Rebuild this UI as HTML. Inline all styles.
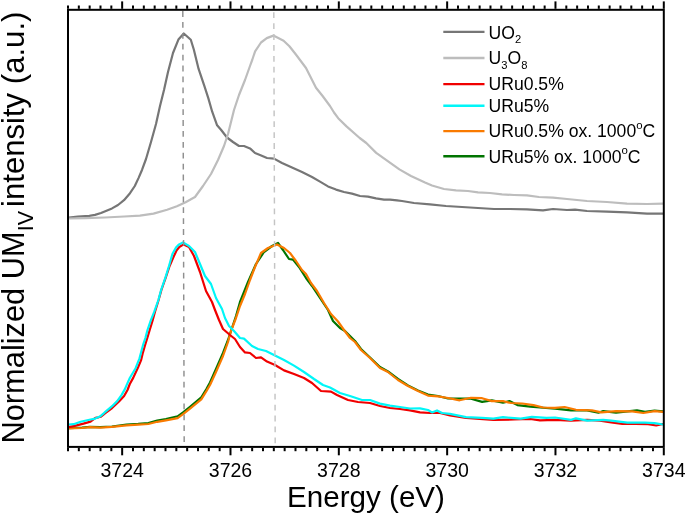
<!DOCTYPE html>
<html><head><meta charset="utf-8"><style>
html,body{margin:0;padding:0;background:#fff;}
svg{display:block;}
text{font-family:"Liberation Sans",Arial,sans-serif;fill:#000;}
</style></head><body>
<svg width="685" height="514" viewBox="0 0 685 514">
<rect width="685" height="514" fill="#fff"/>
<g fill="none" stroke-width="2.2" stroke-linejoin="round" stroke-linecap="round">
<polyline points="68.9,217.5 77.7,216.7 89.3,215.8 95.0,214.9 101.0,213.0 107.1,210.4 112.0,208.4 118.0,205.0 124.0,200.2 130.0,193.2 134.8,186.0 138.5,178.1 142.1,169.7 146.0,159.0 151.0,142.0 156.0,124.0 160.0,106.0 164.0,90.0 168.0,72.0 173.0,53.0 178.4,39.6 183.8,33.5 190.8,39.7 193.8,49.5 198.6,68.9 204.5,86.4 208.3,98.1 212.2,111.7 217.1,125.3 221.0,129.8 227.0,137.5 233.0,142.0 239.0,146.0 244.0,146.0 250.0,148.4 255.0,153.0 260.0,155.0 267.0,158.0 274.0,158.6 282.0,163.0 292.0,167.6 302.0,172.0 312.0,177.0 320.0,181.6 328.0,186.4 336.0,189.6 344.0,192.0 352.0,193.6 360.0,196.0 368.0,196.6 376.0,198.4 384.0,199.6 390.0,199.6 397.0,200.4 402.0,201.0 414.0,203.0 430.0,204.4 446.0,206.0 462.0,207.0 478.0,208.0 494.0,209.0 510.0,209.0 527.0,209.4 543.0,210.4 553.0,209.0 567.0,210.0 575.0,209.6 587.0,211.0 607.0,211.6 627.0,212.4 647.0,213.6 663.0,213.6" stroke="#767676"/>
<polyline points="68.9,218.5 85.4,218.1 104.9,217.5 124.3,216.5 139.9,215.6 153.5,213.6 167.1,209.7 176.9,206.2 185.6,202.3 195.0,197.0 203.0,186.0 211.0,174.0 218.0,160.0 224.0,146.0 228.0,134.0 231.0,122.0 234.0,110.0 239.0,95.0 245.0,80.0 250.0,66.0 252.2,60.0 255.1,51.3 261.0,42.5 266.8,38.1 273.4,35.6 283.6,40.7 289.4,46.2 296.1,54.8 306.0,68.0 316.0,87.8 322.6,96.0 330.0,106.0 334.0,112.5 338.2,118.2 346.5,126.4 359.7,138.0 366.3,143.0 376.2,152.9 387.8,161.2 399.4,169.4 411.0,176.0 425.0,182.6 432.0,185.5 444.0,189.0 456.0,190.4 468.0,191.0 478.0,192.4 490.0,193.0 502.0,194.4 514.0,195.0 527.0,195.4 539.0,197.0 553.0,197.6 567.0,199.0 587.0,201.0 607.0,202.0 627.0,203.6 647.0,204.0 663.0,203.6" stroke="#bdbdbd"/>
<polyline points="68.4,428.1 82.0,427.6 90.0,426.9 100.2,427.2 111.9,426.6 126.5,424.5 138.2,423.9 148.4,423.0 157.2,420.6 165.9,419.0 177.6,416.3 183.4,412.2 190.0,406.8 201.3,397.3 206.4,389.1 210.0,382.5 216.0,369.0 223.0,353.0 228.0,340.0 232.0,328.0 236.0,316.0 240.0,302.0 248.0,282.0 256.0,264.0 264.0,252.0 272.0,246.0 278.0,243.0 283.0,250.0 289.0,259.0 293.0,259.6 299.0,267.0 306.0,278.0 312.0,286.0 320.0,298.0 328.0,310.0 333.0,321.0 340.0,328.0 345.0,331.0 350.0,336.0 355.0,341.0 361.0,349.0 370.0,357.5 380.0,367.0 388.0,371.5 398.0,379.0 408.0,385.5 418.0,390.5 428.0,394.5 438.0,396.0 448.0,398.5 460.0,398.7 471.0,398.7 482.1,401.9 491.8,400.3 503.0,402.7 509.4,401.1 517.4,405.1 530.3,406.7 540.0,407.5 555.0,408.7 571.0,410.3 587.1,410.3 598.4,412.7 603.2,411.1 616.0,412.7 636.9,410.3 645.0,411.9 654.6,410.7 663.0,411.4" stroke="#007400"/>
<polyline points="68.4,428.4 82.0,428.0 90.0,427.2 100.2,427.6 111.9,426.9 126.5,425.4 138.2,424.7 148.4,424.0 157.2,421.8 165.9,420.3 177.6,418.1 183.4,413.8 190.0,408.6 201.3,399.3 206.4,391.1 210.0,385.0 216.0,372.0 223.0,356.0 228.0,342.0 231.0,331.0 236.0,318.0 240.0,306.0 245.0,294.0 250.0,280.0 255.0,267.0 261.0,253.0 268.0,248.0 277.0,244.4 284.0,248.0 290.0,253.0 296.0,261.0 302.0,270.0 306.0,274.0 311.0,283.0 317.0,291.0 324.0,303.0 331.0,314.0 338.0,321.5 344.0,330.0 350.0,338.0 355.0,342.0 361.0,350.0 370.0,358.0 380.0,368.0 388.0,372.0 398.0,380.0 408.0,386.0 418.0,391.0 428.0,395.6 438.0,396.4 448.0,398.0 459.6,400.3 470.9,397.8 482.1,398.2 491.8,401.1 503.0,401.1 511.0,403.0 522.3,403.5 533.5,405.1 543.1,407.5 555.0,407.8 564.6,407.0 575.9,409.8 591.9,410.3 601.6,412.3 616.0,411.1 632.1,411.4 643.3,413.0 654.6,411.1 663.0,411.9" stroke="#f97a00"/>
<polyline points="68.4,427.1 74.8,425.9 83.5,423.6 90.5,421.6 95.5,417.8 98.5,417.3 101.0,416.6 105.3,413.1 112.1,408.0 119.0,401.5 124.1,396.0 127.5,390.0 129.8,384.0 133.2,377.9 138.1,367.2 141.0,360.4 142.9,352.6 144.9,345.8 147.3,338.0 149.7,330.0 152.6,320.4 155.0,311.7 158.6,300.0 161.4,290.0 165.8,277.3 169.6,266.0 173.8,256.4 176.5,250.5 179.3,247.0 183.6,244.4 189.0,247.0 194.0,256.0 200.0,272.0 206.0,291.0 212.0,302.0 215.0,310.0 219.0,320.0 223.0,329.0 230.0,335.0 235.0,339.0 240.0,347.0 245.0,352.4 250.0,353.0 256.0,358.0 261.0,357.4 267.0,361.6 275.0,365.0 284.0,370.4 294.0,374.0 304.0,378.0 312.0,383.0 321.0,391.0 331.0,391.6 337.0,395.0 348.0,400.0 358.0,402.0 370.0,403.0 380.0,406.0 390.0,408.0 400.0,409.0 410.0,410.4 420.0,412.4 430.0,413.0 440.0,413.0 450.0,415.5 466.0,417.9 493.4,420.0 514.2,419.5 530.3,419.0 540.0,420.3 555.0,419.9 571.0,420.7 587.1,419.9 600.0,420.7 611.2,422.3 622.4,423.9 635.3,423.9 648.1,424.2 656.2,425.5 663.0,424.0" stroke="#f00000"/>
<polyline points="68.4,424.5 73.6,424.2 80.6,421.8 89.4,419.8 95.2,418.6 99.9,416.6 103.4,413.7 105.3,411.8 112.1,406.2 117.2,401.1 121.5,395.1 124.9,389.1 127.5,383.1 129.8,378.0 135.6,368.2 139.5,358.4 141.5,350.7 143.4,343.8 145.4,338.0 147.5,330.0 150.8,320.4 154.3,311.7 158.4,300.0 161.1,290.0 165.5,277.3 169.0,266.0 172.5,253.7 176.0,247.6 178.6,244.8 183.0,242.4 189.0,246.0 195.0,252.0 200.0,264.0 205.0,276.0 211.0,284.0 216.0,298.0 222.0,309.0 225.0,318.0 229.0,326.0 234.0,331.0 240.0,338.0 244.0,338.6 252.0,346.0 258.0,349.0 266.0,351.0 275.0,355.6 284.0,360.0 294.0,365.6 304.0,372.0 314.0,379.0 323.0,385.0 330.0,387.5 340.0,393.0 350.0,396.0 362.0,400.0 370.0,400.0 380.0,403.6 390.0,405.6 400.0,407.0 410.0,408.5 420.0,408.4 428.0,410.0 432.0,412.4 437.0,410.4 442.0,413.0 450.0,413.9 466.0,417.1 482.1,417.9 493.4,418.7 503.0,417.1 520.7,418.7 531.9,416.8 546.4,417.9 555.0,417.5 571.0,419.9 575.9,418.3 587.1,420.7 603.2,419.9 611.2,420.7 627.3,422.6 644.9,422.6 654.6,423.1 663.0,424.5" stroke="#00f6f8"/>
</g>
<g fill="none" stroke-width="1.45" stroke-dasharray="5.8 5.1">
<line x1="182.8" y1="11.1" x2="184.2" y2="446" stroke="#8f8f8f"/>
<line x1="273.8" y1="12.3" x2="275.2" y2="446" stroke="#c4c4c4"/>
</g>
<g stroke="#000" stroke-width="2" fill="none">
<rect x="68.0" y="9.8" width="595.80" height="437.10"/>
<line x1="68.00" y1="8.80" x2="68.00" y2="5.50"/><line x1="68.00" y1="447.90" x2="68.00" y2="451.20"/><line x1="78.83" y1="8.80" x2="78.83" y2="5.50"/><line x1="78.83" y1="447.90" x2="78.83" y2="451.20"/><line x1="89.67" y1="8.80" x2="89.67" y2="5.50"/><line x1="89.67" y1="447.90" x2="89.67" y2="451.20"/><line x1="100.50" y1="8.80" x2="100.50" y2="5.50"/><line x1="100.50" y1="447.90" x2="100.50" y2="451.20"/><line x1="111.33" y1="8.80" x2="111.33" y2="5.50"/><line x1="111.33" y1="447.90" x2="111.33" y2="451.20"/><line x1="122.16" y1="8.80" x2="122.16" y2="1.40"/><line x1="122.16" y1="447.90" x2="122.16" y2="455.30"/><line x1="133.00" y1="8.80" x2="133.00" y2="5.50"/><line x1="133.00" y1="447.90" x2="133.00" y2="451.20"/><line x1="143.83" y1="8.80" x2="143.83" y2="5.50"/><line x1="143.83" y1="447.90" x2="143.83" y2="451.20"/><line x1="154.66" y1="8.80" x2="154.66" y2="5.50"/><line x1="154.66" y1="447.90" x2="154.66" y2="451.20"/><line x1="165.49" y1="8.80" x2="165.49" y2="5.50"/><line x1="165.49" y1="447.90" x2="165.49" y2="451.20"/><line x1="176.33" y1="8.80" x2="176.33" y2="5.50"/><line x1="176.33" y1="447.90" x2="176.33" y2="451.20"/><line x1="187.16" y1="8.80" x2="187.16" y2="5.50"/><line x1="187.16" y1="447.90" x2="187.16" y2="451.20"/><line x1="197.99" y1="8.80" x2="197.99" y2="5.50"/><line x1="197.99" y1="447.90" x2="197.99" y2="451.20"/><line x1="208.83" y1="8.80" x2="208.83" y2="5.50"/><line x1="208.83" y1="447.90" x2="208.83" y2="451.20"/><line x1="219.66" y1="8.80" x2="219.66" y2="5.50"/><line x1="219.66" y1="447.90" x2="219.66" y2="451.20"/><line x1="230.49" y1="8.80" x2="230.49" y2="1.40"/><line x1="230.49" y1="447.90" x2="230.49" y2="455.30"/><line x1="241.32" y1="8.80" x2="241.32" y2="5.50"/><line x1="241.32" y1="447.90" x2="241.32" y2="451.20"/><line x1="252.16" y1="8.80" x2="252.16" y2="5.50"/><line x1="252.16" y1="447.90" x2="252.16" y2="451.20"/><line x1="262.99" y1="8.80" x2="262.99" y2="5.50"/><line x1="262.99" y1="447.90" x2="262.99" y2="451.20"/><line x1="273.82" y1="8.80" x2="273.82" y2="5.50"/><line x1="273.82" y1="447.90" x2="273.82" y2="451.20"/><line x1="284.65" y1="8.80" x2="284.65" y2="5.50"/><line x1="284.65" y1="447.90" x2="284.65" y2="451.20"/><line x1="295.49" y1="8.80" x2="295.49" y2="5.50"/><line x1="295.49" y1="447.90" x2="295.49" y2="451.20"/><line x1="306.32" y1="8.80" x2="306.32" y2="5.50"/><line x1="306.32" y1="447.90" x2="306.32" y2="451.20"/><line x1="317.15" y1="8.80" x2="317.15" y2="5.50"/><line x1="317.15" y1="447.90" x2="317.15" y2="451.20"/><line x1="327.99" y1="8.80" x2="327.99" y2="5.50"/><line x1="327.99" y1="447.90" x2="327.99" y2="451.20"/><line x1="338.82" y1="8.80" x2="338.82" y2="1.40"/><line x1="338.82" y1="447.90" x2="338.82" y2="455.30"/><line x1="349.65" y1="8.80" x2="349.65" y2="5.50"/><line x1="349.65" y1="447.90" x2="349.65" y2="451.20"/><line x1="360.48" y1="8.80" x2="360.48" y2="5.50"/><line x1="360.48" y1="447.90" x2="360.48" y2="451.20"/><line x1="371.32" y1="8.80" x2="371.32" y2="5.50"/><line x1="371.32" y1="447.90" x2="371.32" y2="451.20"/><line x1="382.15" y1="8.80" x2="382.15" y2="5.50"/><line x1="382.15" y1="447.90" x2="382.15" y2="451.20"/><line x1="392.98" y1="8.80" x2="392.98" y2="5.50"/><line x1="392.98" y1="447.90" x2="392.98" y2="451.20"/><line x1="403.81" y1="8.80" x2="403.81" y2="5.50"/><line x1="403.81" y1="447.90" x2="403.81" y2="451.20"/><line x1="414.65" y1="8.80" x2="414.65" y2="5.50"/><line x1="414.65" y1="447.90" x2="414.65" y2="451.20"/><line x1="425.48" y1="8.80" x2="425.48" y2="5.50"/><line x1="425.48" y1="447.90" x2="425.48" y2="451.20"/><line x1="436.31" y1="8.80" x2="436.31" y2="5.50"/><line x1="436.31" y1="447.90" x2="436.31" y2="451.20"/><line x1="447.15" y1="8.80" x2="447.15" y2="1.40"/><line x1="447.15" y1="447.90" x2="447.15" y2="455.30"/><line x1="457.98" y1="8.80" x2="457.98" y2="5.50"/><line x1="457.98" y1="447.90" x2="457.98" y2="451.20"/><line x1="468.81" y1="8.80" x2="468.81" y2="5.50"/><line x1="468.81" y1="447.90" x2="468.81" y2="451.20"/><line x1="479.64" y1="8.80" x2="479.64" y2="5.50"/><line x1="479.64" y1="447.90" x2="479.64" y2="451.20"/><line x1="490.48" y1="8.80" x2="490.48" y2="5.50"/><line x1="490.48" y1="447.90" x2="490.48" y2="451.20"/><line x1="501.31" y1="8.80" x2="501.31" y2="5.50"/><line x1="501.31" y1="447.90" x2="501.31" y2="451.20"/><line x1="512.14" y1="8.80" x2="512.14" y2="5.50"/><line x1="512.14" y1="447.90" x2="512.14" y2="451.20"/><line x1="522.97" y1="8.80" x2="522.97" y2="5.50"/><line x1="522.97" y1="447.90" x2="522.97" y2="451.20"/><line x1="533.81" y1="8.80" x2="533.81" y2="5.50"/><line x1="533.81" y1="447.90" x2="533.81" y2="451.20"/><line x1="544.64" y1="8.80" x2="544.64" y2="5.50"/><line x1="544.64" y1="447.90" x2="544.64" y2="451.20"/><line x1="555.47" y1="8.80" x2="555.47" y2="1.40"/><line x1="555.47" y1="447.90" x2="555.47" y2="455.30"/><line x1="566.31" y1="8.80" x2="566.31" y2="5.50"/><line x1="566.31" y1="447.90" x2="566.31" y2="451.20"/><line x1="577.14" y1="8.80" x2="577.14" y2="5.50"/><line x1="577.14" y1="447.90" x2="577.14" y2="451.20"/><line x1="587.97" y1="8.80" x2="587.97" y2="5.50"/><line x1="587.97" y1="447.90" x2="587.97" y2="451.20"/><line x1="598.80" y1="8.80" x2="598.80" y2="5.50"/><line x1="598.80" y1="447.90" x2="598.80" y2="451.20"/><line x1="609.64" y1="8.80" x2="609.64" y2="5.50"/><line x1="609.64" y1="447.90" x2="609.64" y2="451.20"/><line x1="620.47" y1="8.80" x2="620.47" y2="5.50"/><line x1="620.47" y1="447.90" x2="620.47" y2="451.20"/><line x1="631.30" y1="8.80" x2="631.30" y2="5.50"/><line x1="631.30" y1="447.90" x2="631.30" y2="451.20"/><line x1="642.13" y1="8.80" x2="642.13" y2="5.50"/><line x1="642.13" y1="447.90" x2="642.13" y2="451.20"/><line x1="652.97" y1="8.80" x2="652.97" y2="5.50"/><line x1="652.97" y1="447.90" x2="652.97" y2="451.20"/><line x1="663.80" y1="8.80" x2="663.80" y2="1.40"/><line x1="663.80" y1="447.90" x2="663.80" y2="455.30"/>
</g>
<g font-size="19.5">
<text x="122.16" y="476.8" text-anchor="middle">3724</text><text x="230.49" y="476.8" text-anchor="middle">3726</text><text x="338.82" y="476.8" text-anchor="middle">3728</text><text x="447.15" y="476.8" text-anchor="middle">3730</text><text x="555.47" y="476.8" text-anchor="middle">3732</text><text x="663.80" y="476.8" text-anchor="middle">3734</text>
</g>
<text x="366.0" y="506.9" font-size="29.6" text-anchor="middle">Energy (eV)</text>
<text transform="translate(23.6,443.5) rotate(-90)" font-size="30.8">Normalized UM<tspan font-size="21.5" dy="9.5">IV</tspan><tspan x="236.6" dy="-9.5" font-size="31.1">intensity (a.u.)</tspan></text>
<g fill="none" stroke-width="2.4">
<line x1="443.3" y1="31.9" x2="484.5" y2="31.9" stroke="#767676"/>
<line x1="443.3" y1="58" x2="484.5" y2="58" stroke="#bdbdbd"/>
<line x1="443.3" y1="84.1" x2="484.5" y2="84.1" stroke="#f00000"/>
<line x1="443.3" y1="105.7" x2="484.5" y2="105.7" stroke="#00f6f8"/>
<line x1="443.3" y1="131.1" x2="484.5" y2="131.1" stroke="#f97a00"/>
<line x1="443.3" y1="156.3" x2="484.5" y2="156.3" stroke="#007400"/>
</g>
<g font-size="17.6">
<text x="488.5" y="38.5">UO<tspan font-size="11.2" dy="4.8">2</tspan></text>
<text x="488.5" y="64.2">U<tspan font-size="11.2" dy="4.8">3</tspan><tspan dy="-4.8">O</tspan><tspan font-size="11.2" dy="4.8">8</tspan></text>
<text x="488.5" y="90.1">URu0.5%</text>
<text x="488.5" y="111.6">URu5%</text>
<text x="488.5" y="137.3">URu0.5% ox. 1000<tspan font-size="11.4" dy="-8.6">o</tspan><tspan dy="8.6">C</tspan></text>
<text x="488.5" y="162.5">URu5% ox. 1000<tspan font-size="11.4" dy="-8.6">o</tspan><tspan dy="8.6">C</tspan></text>
</g>
</svg>
</body></html>
